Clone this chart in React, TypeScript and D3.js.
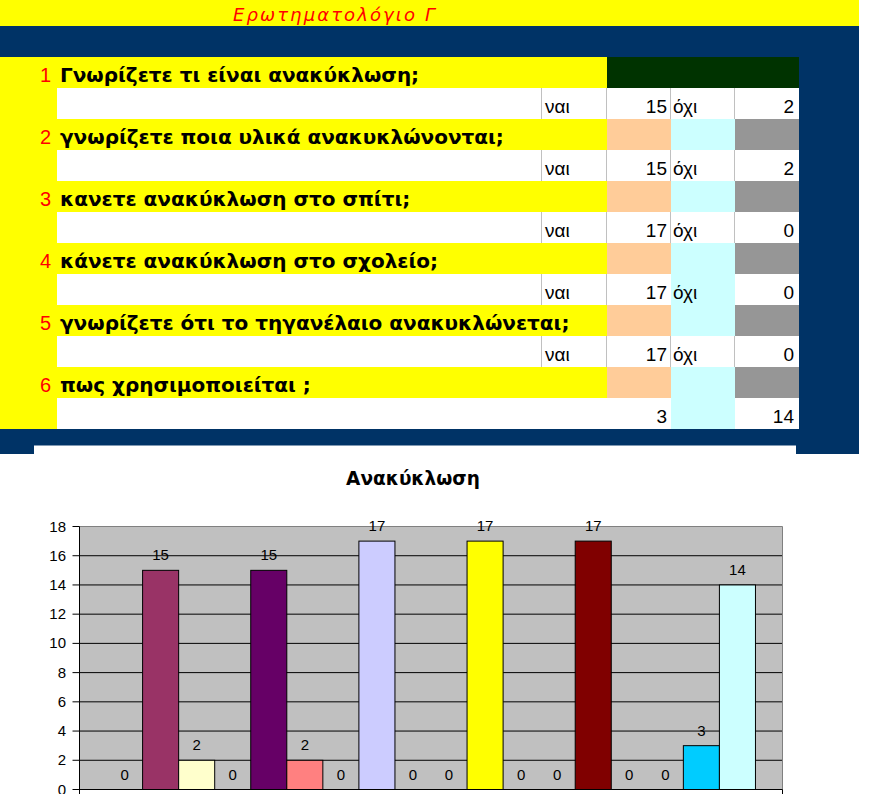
import { scaleBand, scaleLinear, range } from "d3";

// sheet (top part)
const sheetTitle = "Ερωτηματολόγιο Γ";
const questionNumbers = ["1", "2", "3", "4", "5", "6"];
const questions = [
  "Γνωρίζετε τι είναι ανακύκλωση;",
  "γνωρίζετε ποια υλικά ανακυκλώνονται;",
  "κανετε ανακύκλωση στο σπίτι;",
  "κάνετε ανακύκλωση στο σχολείο;",
  "γνωρίζετε ότι το τηγανέλαιο ανακυκλώνεται;",
  "πως χρησιμοποιείται ;",
];
const yesLabels = ["ναι", "ναι", "ναι", "ναι", "ναι", ""];
const noLabels = ["όχι", "όχι", "όχι", "όχι", "όχι", ""];
const yesCounts = [15, 15, 17, 17, 17, 3];
const noCounts = [2, 2, 0, 0, 0, 14];

// chart (bottom part)
const chartTitle = "Ανακύκλωση";
const chartValues = [0, 15, 2, 0, 15, 2, 0, 17, 0, 0, 17, 0, 0, 17, 0, 0, 3, 14];
const seriesColors = [
  "#9999FF", "#993366", "#FFFFCC", "#CCFFFF", "#660066", "#FF8080",
  "#0066CC", "#CCCCFF", "#000080", "#FF00FF", "#FFFF00", "#00FFFF",
  "#800080", "#800000", "#008080", "#0000FF", "#00CCFF", "#CCFFFF",
];
const yMax = 18;

const YELLOW = "#FFFF00";
const NAVY = "#003366";
const GRID = "#C0C0C0";
const boldFont = "'DejaVu Sans', Verdana, sans-serif";
const arial = "'Liberation Sans', Arial, sans-serif";

export default function App() {
  const W = 876;
  const H = 794;

  // table geometry
  const rows = scaleBand<number>().domain(range(12)).range([57, 429]);
  const col = { q: 57, yes: 542, yesNum: 607, no: 671, noNum: 735, end: 799 };
  const cyanNoRows = [false, false, false, true, false, true];

  // chart geometry
  const plot = { left: 79.5, right: 782.5, top: 526.5, bottom: 789.5 };
  const x = scaleBand<number>()
    .domain(range(chartValues.length))
    .range([plot.left, plot.right])
    .paddingInner(0)
    .paddingOuter(0.75);
  const y = scaleLinear().domain([0, yMax]).range([plot.bottom, plot.top]);
  const yTicks = y.ticks(9);

  return (
    <svg
      width={W}
      height={H}
      style={{ position: "absolute", left: 0, top: 0, display: "block" }}
    >
      <rect width={W} height={H} fill="#fff" />
      <rect x={0} y={0} width={859} height={26} fill={YELLOW} />
      <text
        x={233}
        y={20.5}
        fontFamily={boldFont}
        fontStyle="italic"
        fontSize={18}
        fill="#FF0000"
        textLength={202}
        lengthAdjust="spacing"
      >
        {sheetTitle}
      </text>
      <rect x={0} y={26} width={859} height={428} fill={NAVY} />

      {/* Question rows */}
      {questions.map((q, i) => {
        const qy = rows(i * 2)!;
        const ay = rows(i * 2 + 1)!;
        const h = rows.bandwidth();
        const base = 24.5;
        return (
          <g key={i}>
            <rect x={0} y={qy} width={col.yesNum} height={h} fill={YELLOW} />
            {i === 0 ? (
              <rect x={col.yesNum} y={qy} width={col.end - col.yesNum} height={h} fill="#003300" />
            ) : (
              <>
                <rect x={col.yesNum} y={qy} width={col.no - col.yesNum} height={h} fill="#FFCC99" />
                <rect x={col.no} y={qy} width={col.noNum - col.no} height={h} fill="#CCFFFF" />
                <rect x={col.noNum} y={qy} width={col.end - col.noNum} height={h} fill="#969696" />
              </>
            )}
            <text x={51} y={qy + base} textAnchor="end" fontFamily={arial} fontSize={20} fill="#FF0000">
              {questionNumbers[i]}
            </text>
            <text x={60} y={qy + base} fontFamily={boldFont} fontWeight="bold" fontSize={20} fill="#000">
              {q}
            </text>

            {/* answers row */}
            <rect x={0} y={ay} width={col.q} height={h} fill={YELLOW} />
            <rect x={col.q} y={ay} width={col.end - col.q} height={h} fill="#fff" />
            {cyanNoRows[i] && (
              <rect x={col.no} y={ay} width={col.noNum - col.no} height={h} fill="#CCFFFF" />
            )}
            {yesLabels[i] !== "" && (
              <g stroke={GRID} strokeWidth={1}>
                <line x1={col.yes - 0.5} x2={col.yes - 0.5} y1={ay} y2={ay + h} />
                <line x1={col.yesNum - 0.5} x2={col.yesNum - 0.5} y1={ay} y2={ay + h} />
                {!cyanNoRows[i] && (
                  <>
                    <line x1={col.no - 0.5} x2={col.no - 0.5} y1={ay} y2={ay + h} />
                    <line x1={col.noNum - 0.5} x2={col.noNum - 0.5} y1={ay} y2={ay + h} />
                  </>
                )}
              </g>
            )}
            <g fontFamily={arial} fontSize={19} fill="#000">
              <text x={col.yes + 3} y={ay + base}>{yesLabels[i]}</text>
              <text x={col.no - 4} y={ay + base} textAnchor="end">{yesCounts[i]}</text>
              <text x={col.no + 2} y={ay + base}>{noLabels[i]}</text>
              <text x={col.end - 5} y={ay + base} textAnchor="end">{noCounts[i]}</text>
            </g>
          </g>
        );
      })}

      {/* Chart */}
      <rect x={34} y={445.5} width={762} height={H - 445.5} fill="#fff" />
      <text
        x={413}
        y={484.5}
        textAnchor="middle"
        fontFamily={boldFont}
        fontWeight="bold"
        fontSize={18.5}
        fill="#000"
      >
        {chartTitle}
      </text>
      <rect
        x={plot.left}
        y={plot.top}
        width={plot.right - plot.left}
        height={plot.bottom - plot.top}
        fill="#C0C0C0"
      />
      {yTicks
        .filter((t) => t > 0 && t < yMax)
        .map((t) => (
          <line key={t} x1={plot.left} x2={plot.right} y1={y(t)} y2={y(t)} stroke="#000" />
        ))}
      <line x1={plot.left} x2={plot.right} y1={plot.top} y2={plot.top} stroke="#808080" />
      <line x1={plot.right} x2={plot.right} y1={plot.top} y2={plot.bottom} stroke="#808080" />

      {chartValues.map((v, i) =>
        v > 0 ? (
          <rect
            key={i}
            x={x(i)!}
            y={y(v)}
            width={x.bandwidth()}
            height={plot.bottom - y(v)}
            fill={seriesColors[i]}
            stroke="#000"
            strokeWidth={1}
          />
        ) : null
      )}
      <g fontFamily={arial} fontSize={15} fill="#000" textAnchor="middle">
        {chartValues.map((v, i) => (
          <text key={i} x={x(i)! + x.bandwidth() / 2} y={y(v) - 10}>
            {v}
          </text>
        ))}
      </g>

      {/* axes */}
      <g stroke="#000">
        <line x1={plot.left} x2={plot.left} y1={plot.top} y2={H} />
        <line x1={plot.left} x2={plot.right} y1={plot.bottom} y2={plot.bottom} />
        <line x1={plot.right} x2={plot.right} y1={plot.bottom} y2={H} />
        {yTicks.map((t) => (
          <line key={t} x1={plot.left - 7} x2={plot.left} y1={y(t)} y2={y(t)} />
        ))}
      </g>
      <g fontFamily={arial} fontSize={15} fill="#000" textAnchor="end">
        {yTicks.map((t) => (
          <text key={t} x={66} y={y(t) + 5}>
            {t}
          </text>
        ))}
      </g>
    </svg>
  );
}
